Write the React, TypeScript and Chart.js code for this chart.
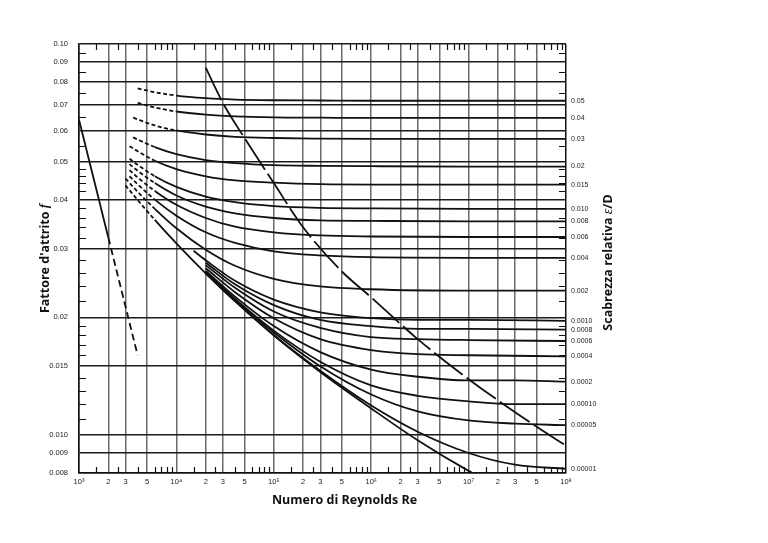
import { useEffect, useRef } from "react";
import { Chart, registerables } from "chart.js";

Chart.register(...registerables);

// Reynolds numbers at which the friction factor is tabulated
const REYNOLDS = [3000, 3300, 3600, 4000, 6000, 1e4, 1.5e4, 2e4, 4e4, 1e5, 3e5, 1e6, 3e6, 1e7, 1.1e7, 3e7, 1e8];

const _ = null;
// Friction factor f for each relative roughness ε/D (null = not drawn there)
const F_E0500 = [_, _, _, 0.077, 0.0753, 0.0738, _, 0.0727, 0.0721, 0.0718, 0.0717, 0.0716, _, 0.0716, _, _, 0.0716];
const F_E0400 = [_, _, _, 0.0707, 0.0688, 0.0672, _, 0.066, 0.0653, 0.0649, 0.0648, 0.0647, _, 0.0647, _, _, 0.0647];
const F_E0300 = [_, _, 0.0648, _, 0.0619, 0.0601, _, 0.0587, 0.0579, 0.0575, 0.0573, 0.0572, _, 0.0572, _, _, 0.0572];
const F_E0200 = [_, _, 0.0577, _, 0.0545, 0.0523, _, 0.0505, 0.0496, 0.049, 0.0488, 0.0487, _, 0.0486, _, _, 0.0486];
const F_E0150 = [_, 0.0548, _, 0.0532, 0.0503, 0.0479, _, 0.0459, 0.0448, 0.0442, 0.0438, 0.0437, _, 0.0437, _, _, 0.0437];
const F_E0100 = [_, 0.0509, _, 0.0491, 0.0459, 0.0431, _, 0.0407, 0.0394, 0.0385, 0.0381, 0.038, _, 0.0379, _, _, 0.0379];
const F_E0080 = [_, 0.0493, _, 0.0474, 0.0441, 0.041, _, 0.0384, 0.0369, 0.0359, 0.0354, 0.0353, _, 0.0352, _, _, 0.0352];
const F_E0060 = [_, 0.0476, _, 0.0456, 0.0421, 0.0388, _, 0.0359, 0.0341, 0.033, 0.0324, 0.0322, _, 0.0321, _, _, 0.0321];
const F_E0040 = [_, 0.0459, _, 0.0438, 0.04, 0.0364, _, 0.033, 0.031, 0.0295, 0.0288, 0.0285, _, 0.0284, _, _, 0.0284];
const F_E0020 = [0.0453, _, _, 0.0419, 0.0379, 0.0338, _, 0.0298, 0.0271, 0.0251, 0.024, 0.0236, _, 0.0234, _, _, 0.0234];
const F_E0010 = [_, _, _, _, _, _, 0.0296, 0.028, 0.0248, 0.0222, 0.0206, 0.0199, 0.0197, 0.0197, _, _, 0.0196];
const F_E0008 = [_, _, _, _, _, _, _, 0.0276, 0.0243, 0.0215, 0.0197, 0.019, 0.0187, 0.0187, _, _, 0.0186];
const F_E0006 = [_, _, _, _, _, _, _, 0.0272, 0.0238, 0.0207, 0.0188, 0.0178, 0.0176, 0.0175, _, _, 0.0174];
const F_E0004 = [_, _, _, _, _, _, _, 0.0267, 0.0232, 0.0199, 0.0176, 0.0165, 0.0161, 0.016, _, _, 0.0159];
const F_E0002 = [_, _, _, _, _, _, _, 0.0263, 0.0226, 0.019, 0.0163, 0.0147, 0.0141, 0.0138, _, 0.0138, 0.0137];
const F_E00010 = [_, _, _, _, _, _, _, 0.0261, 0.0223, 0.0185, 0.0154, 0.0134, 0.0126, 0.0122, _, 0.012, 0.012];
const F_E00005 = [_, _, _, _, _, _, _, 0.026, 0.0221, 0.0183, 0.015, 0.0127, 0.0115, 0.0109, _, 0.0107, 0.0106];
const F_E00001 = [_, _, _, _, _, _, _, 0.0259, 0.022, 0.018, 0.0146, 0.0119, 0.0102, 0.009, _, 0.0084, 0.0082];
const F_SMOOTH = [0.0435, _, _, 0.0399, 0.0355, 0.0309, _, 0.0259, 0.022, 0.018, 0.0145, 0.0117, 0.0097, 0.0081, 0.008, _, _];

const ROUGHNESS_LABELS = ["0.05", "0.04", "0.03", "0.02", "0.015", "0.010", "0.008", "0.006", "0.004", "0.002", "0.0010", "0.0008", "0.0006", "0.0004", "0.0002", "0.00010", "0.00005", "0.00001"];
const ROUGHNESS_F = [F_E0500, F_E0400, F_E0300, F_E0200, F_E0150, F_E0100, F_E0080, F_E0060, F_E0040, F_E0020, F_E0010, F_E0008, F_E0006, F_E0004, F_E0002, F_E00010, F_E00005, F_E00001];
// Reynolds number up to which each curve is drawn dashed (transition zone)
const DASHED_UNTIL = [1e4, 1e4, 1e4, 6000, 6000, 6000, 6000, 6000, 6000, 6000, 0, 0, 0, 0, 0, 0, 0, 0];

// Laminar flow, f = 64/Re
const LAMINAR_RE = [1000, 2000, 4000];
const LAMINAR_F = [0.064, 0.032, 0.016];

// Limit of the fully rough zone
const ROUGH_LIMIT_RE = [2e4, 3e4, 5e4, 1e5, 2e5, 5e5, 1e6, 3e6, 1e7, 5e7, 1e8];
const ROUGH_LIMIT_F = [0.087, 0.0707, 0.0575, 0.0441, 0.034, 0.0262, 0.0225, 0.0176, 0.0139, 0.0105, 0.0094];

const X_TICKS = [1e3, 2e3, 3e3, 5e3, 1e4, 2e4, 3e4, 5e4, 1e5, 2e5, 3e5, 5e5, 1e6, 2e6, 3e6, 5e6, 1e7, 2e7, 3e7, 5e7, 1e8];
const X_TICK_LABELS = ["10³", "2", "3", "5", "10⁴", "2", "3", "5", "10⁵", "2", "3", "5", "10⁶", "2", "3", "5", "10⁷", "2", "3", "5", "10⁸"];
const X_MINOR_MANTISSAS = [1.5, 2.5, 4, 6, 7, 8, 9];
const X_DECADES = [1e3, 1e4, 1e5, 1e6, 1e7];

const Y_TICKS = [0.008, 0.009, 0.01, 0.015, 0.02, 0.03, 0.04, 0.05, 0.06, 0.07, 0.08, 0.09, 0.1];
const Y_TICK_LABELS = ["0.008", "0.009", "0.010", "0.015", "0.02", "0.03", "0.04", "0.05", "0.06", "0.07", "0.08", "0.09", "0.10"];
const Y_MINOR = [0.011, 0.012, 0.013, 0.014, 0.016, 0.017, 0.018, 0.019, 0.022, 0.024, 0.026, 0.028, 0.032, 0.034, 0.036, 0.038, 0.042, 0.044, 0.046, 0.048, 0.055, 0.065, 0.075, 0.085, 0.095];

const X_TITLE = "Numero di Reynolds Re";
const Y_TITLE = ["Fattore d'attrito ", "f"];
const Y2_TITLE = ["Scabrezza relativa ", "ε", "/D"];

const INK = "#111";
const CURVE_WIDTH = 1.8;
const TICK_FONT = { family: '"Liberation Sans", Arial, sans-serif', size: 7.5 };

const lastValue = (arr: (number | null)[]) => {
  for (let i = arr.length - 1; i >= 0; i--) if (arr[i] != null) return arr[i] as number;
  return 0;
};
const toPoints = (xs: number[], ys: (number | null)[]) =>
  xs.map((x, i) => ({ x, y: ys[i] })).filter((p) => p.y != null);

function drawRotatedParts(ctx: CanvasRenderingContext2D, parts: { text: string; font: string }[], cx: number, cy: number) {
  ctx.save();
  ctx.translate(cx, cy);
  ctx.rotate(-Math.PI / 2);
  ctx.textBaseline = "middle";
  ctx.textAlign = "left";
  let total = 0;
  for (const p of parts) {
    ctx.font = p.font;
    total += ctx.measureText(p.text).width;
  }
  let x = -total / 2;
  for (const p of parts) {
    ctx.font = p.font;
    ctx.fillText(p.text, x, 0);
    x += ctx.measureText(p.text).width;
  }
  ctx.restore();
}

const frameDecor = {
  id: "frameDecor",
  afterDatasetsDraw(chart: any) {
    const { ctx, chartArea: a, scales } = chart;
    const x = scales.x;
    const y = scales.y;
    ctx.save();
    ctx.strokeStyle = INK;
    ctx.lineWidth = 1.2;
    ctx.beginPath();
    for (const d of X_DECADES) {
      for (const m of X_MINOR_MANTISSAS) {
        const px = Math.round(x.getPixelForValue(m * d)) + 0.5;
        ctx.moveTo(px, a.bottom);
        ctx.lineTo(px, a.bottom - 6);
        ctx.moveTo(px, a.top);
        ctx.lineTo(px, a.top + 6);
      }
    }
    for (const v of Y_MINOR) {
      const py = Math.round(y.getPixelForValue(v)) + 0.5;
      ctx.moveTo(a.left, py);
      ctx.lineTo(a.left + 7, py);
      ctx.moveTo(a.right, py);
      ctx.lineTo(a.right - 7, py);
    }
    ctx.stroke();
    ctx.restore();
  },
  afterDraw(chart: any) {
    const { ctx, chartArea: a } = chart;
    ctx.save();
    ctx.fillStyle = INK;
    ctx.font = 'bold 12.5px "Open Sans", sans-serif';
    ctx.textAlign = "center";
    ctx.textBaseline = "middle";
    ctx.fillText(X_TITLE, (a.left + a.right) / 2 + 22, a.bottom + 27);
    const midY = (a.top + a.bottom) / 2;
    drawRotatedParts(
      ctx,
      [
        { text: Y_TITLE[0], font: 'bold 12.5px "Open Sans", sans-serif' },
        { text: Y_TITLE[1], font: 'bold italic 13px "Liberation Serif", serif' },
      ],
      a.left - 34,
      midY
    );
    drawRotatedParts(
      ctx,
      [
        { text: Y2_TITLE[0], font: 'bold 12.5px "Open Sans", sans-serif' },
        { text: Y2_TITLE[1], font: 'italic 14px "Liberation Serif", serif' },
        { text: Y2_TITLE[2], font: 'bold 12.5px "Open Sans", sans-serif' },
      ],
      a.right + 42,
      midY + 4
    );
    ctx.restore();
  },
};

export default function App() {
  const canvasRef = useRef<HTMLCanvasElement | null>(null);

  useEffect(() => {
    if (!canvasRef.current) return;

    const curveSets = ROUGHNESS_F.map((fs, i) => {
      const until = DASHED_UNTIL[i];
      return {
        label: "ε/D " + ROUGHNESS_LABELS[i],
        data: toPoints(REYNOLDS, fs),
        borderColor: INK,
        borderWidth: CURVE_WIDTH,
        pointRadius: 0,
        cubicInterpolationMode: "monotone" as const,
        segment: {
          borderDash: (c: any) => (c.p1.parsed.x <= until ? [4, 2.5] : undefined),
        },
      };
    });

    const smoothSet = {
      label: "smooth",
      data: toPoints(REYNOLDS, F_SMOOTH),
      borderColor: INK,
      borderWidth: CURVE_WIDTH,
      pointRadius: 0,
      cubicInterpolationMode: "monotone" as const,
      segment: {
        borderDash: (c: any) => (c.p1.parsed.x <= 6000 ? [4, 2.5] : undefined),
      },
    };

    const laminarSet = {
      label: "laminar",
      data: toPoints(LAMINAR_RE, LAMINAR_F),
      borderColor: INK,
      borderWidth: CURVE_WIDTH,
      pointRadius: 0,
      segment: {
        borderDash: (c: any) => (c.p0.parsed.x >= 2000 ? [7, 4] : undefined),
      },
    };

    const limitSet = {
      label: "rough limit",
      data: toPoints(ROUGH_LIMIT_RE, ROUGH_LIMIT_F),
      borderColor: INK,
      borderWidth: CURVE_WIDTH,
      borderDash: [36, 5],
      pointRadius: 0,
      cubicInterpolationMode: "monotone" as const,
    };

    const endValues = ROUGHNESS_F.map(lastValue);

    const chart = new Chart(canvasRef.current, {
      type: "line",
      data: { datasets: [...curveSets, smoothSet, laminarSet, limitSet] as any },
      options: {
        animation: false,
        responsive: false,
        events: [],
        layout: { padding: { top: 44, left: 0, right: 0, bottom: 0 } },
        plugins: { legend: { display: false }, tooltip: { enabled: false } },
        scales: {
          x: {
            type: "logarithmic",
            min: 1e3,
            max: 1e8,
            afterBuildTicks: (s: any) => {
              s.ticks = X_TICKS.map((v) => ({ value: v }));
            },
            afterFit: (s: any) => {
              s.height = 70;
            },
            ticks: {
              autoSkip: false,
              maxRotation: 0,
              padding: 4,
              color: "#222",
              font: TICK_FONT,
              callback: (_v: any, i: number) => X_TICK_LABELS[i],
            },
            grid: {
              drawTicks: false,
              lineWidth: 1.5,
              color: (c: any) => (c.tick && c.tick.value === 1e8 ? INK : "#6a6a6a"),
            },
            border: { display: true, color: INK, width: 1.6 },
          },
          y: {
            type: "logarithmic",
            position: "left",
            min: 0.008,
            max: 0.1,
            afterBuildTicks: (s: any) => {
              s.ticks = Y_TICKS.map((v) => ({ value: v }));
            },
            afterFit: (s: any) => {
              s.width = 79;
            },
            ticks: {
              autoSkip: false,
              padding: 11,
              color: "#222",
              font: TICK_FONT,
              callback: (_v: any, i: number) => Y_TICK_LABELS[i],
            },
            grid: { drawTicks: false, lineWidth: 1.6, color: "#1a1a1a" },
            border: { display: true, color: INK, width: 1.6 },
          },
          y2: {
            type: "logarithmic",
            position: "right",
            min: 0.008,
            max: 0.1,
            afterBuildTicks: (s: any) => {
              s.ticks = endValues.map((v) => ({ value: v }));
            },
            afterFit: (s: any) => {
              s.width = 202;
            },
            ticks: {
              autoSkip: false,
              padding: 5,
              color: "#222",
              font: { family: '"Liberation Sans", Arial, sans-serif', size: 7 },
              callback: (_v: any, i: number) => ROUGHNESS_LABELS[i],
            },
            grid: { display: false, drawTicks: false },
            border: { display: false },
          },
        },
      },
      plugins: [frameDecor],
    });

    return () => chart.destroy();
  }, []);

  return (
    <div style={{ position: "fixed", left: 0, top: 0, width: 768, height: 543, background: "#fff" }}>
      <canvas ref={canvasRef} width={768} height={543} style={{ display: "block" }} />
    </div>
  );
}
